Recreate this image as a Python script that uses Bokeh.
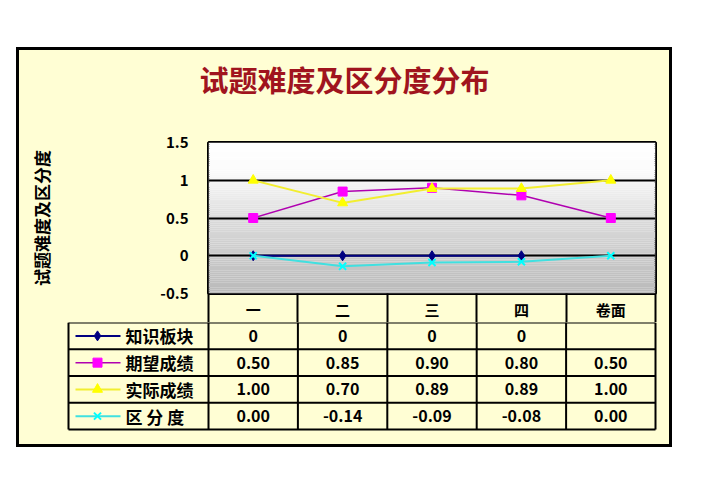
import numpy as np
from bokeh.plotting import figure
from bokeh.layouts import column, row, Spacer
from bokeh.models import Range1d, FixedTicker
from bokeh.core.properties import value
from bokeh.embed import file_html
from bokeh.resources import INLINE

# ---------------- data ----------------
categories = ["一", "二", "三", "四", "卷面"]
series_names = ["知识板块", "期望成绩", "实际成绩", "区 分 度"]
knowledge = [0, 0, 0, 0, None]
expected = [0.50, 0.85, 0.90, 0.80, 0.50]
actual = [1.00, 0.70, 0.89, 0.89, 1.00]
discrim = [0.00, -0.14, -0.09, -0.08, 0.00]
yticks = [-0.5, 0, 0.5, 1, 1.5]
ytick_labels = ["-0.5", "0", "0.5", "1", "1.5"]
title_text = "试题难度及区分度分布"
ylabel_text = "试题难度及区分度"

# ---------------- style / layout ----------------
FONT = "Noto Sans CJK SC"
BG = "#FFFED4"
W = 650
FL = 189          # left border of chart frame
FR = 14           # right border of chart frame
TOPB = 12         # top border of chart figure
HDR = 29          # header row height (x axis area)
PH = 151          # plot frame height
HT = 80           # title strip height
HA = TOPB + PH + HDR
HB = 122
PLOT_W = W - FL - FR
NCAT = len(categories)
CAT_W = PLOT_W / NCAT
LEG_W = 140
ROW_H = 26.75

colors = ["#000080", "#FF00FF", "#FFFF00", "#00FFFF"]
line_colors = ["#000080", "#B000B0", "#F2EE30", "#40E0E0"]
line_widths = [2, 1.5, 2, 2]
markers = ["diamond", "square", "triangle", "x"]
msizes = [10, 9, 10, 10]
series = [knowledge, expected, actual, discrim]

xs = list(range(NCAT))
bounds = [i - 0.5 for i in range(NCAT + 1)]

# ---------------- title strip ----------------
pT = figure(width=W, height=HT, output_backend="svg", toolbar_location=None,
            x_axis_location=None, y_axis_location=None, min_border=0,
            background_fill_color=BG, border_fill_color=BG, title=title_text,
            x_range=Range1d(0, 1), y_range=Range1d(0, 1))
pT.frame_align = False
pT.grid.visible = False
pT.outline_line_color = None
pT.title.align = "center"
pT.title.text_font = FONT
pT.title.text_font_size = "29px"
pT.title.text_font_style = "bold"
pT.title.text_color = "#A0141E"
pT.title.standoff = 10

# ---------------- chart ----------------
pA = figure(width=W, height=HA, x_range=Range1d(-0.5, NCAT - 0.5),
            y_range=Range1d(yticks[0], yticks[-1]),
            output_backend="svg", toolbar_location=None,
            min_border_left=FL, min_border_right=FR, min_border_top=TOPB,
            min_border_bottom=HDR, border_fill_color=BG,
            background_fill_color="white")
pA.frame_align = False

# gradient background of plot area
nb = 80
edges = np.linspace(yticks[0], yticks[-1], nb + 1)
mids = (edges[:-1] + edges[1:]) / 2
g = np.interp(mids, [-0.5, 0.0, 0.5, 0.8, 1.15, 1.5], [186, 202, 220, 236, 252, 255])
band_colors = ["#%02x%02x%02x" % (int(v), int(v), int(v)) for v in g]
pA.quad(left=-0.5, right=NCAT - 0.5, bottom=edges[:-1], top=edges[1:],
        fill_color=band_colors, line_color=None, level="image")

pA.xgrid.visible = False
pA.ygrid.ticker = FixedTicker(ticks=yticks[1:-1])
pA.ygrid.grid_line_color = "black"
pA.ygrid.grid_line_width = 2

for vals, c, lc, lw, m, s in zip(series, colors, line_colors, line_widths, markers, msizes):
    ys = [np.nan if v is None else v for v in vals]
    pA.line(xs, ys, line_color=lc, line_width=lw)
    if m == "x":
        pA.scatter(xs, ys, marker=m, size=s, line_color=c, line_width=2)
    else:
        pA.scatter(xs, ys, marker=m, size=s, fill_color=c, line_color=c)

# y axis
ax = pA.yaxis[0]
ax.ticker = FixedTicker(ticks=yticks)
ax.major_label_overrides = dict(zip(yticks, ytick_labels))
ax.axis_line_color = None
ax.major_tick_line_color = None
ax.minor_tick_line_color = None
ax.major_label_standoff = 14
ax.major_label_text_font = FONT
ax.major_label_text_font_style = "bold"
ax.major_label_text_font_size = "15px"
ax.major_label_text_color = "black"
ax.axis_label = ylabel_text
ax.axis_label_text_font = FONT
ax.axis_label_text_font_style = "bold"
ax.axis_label_text_font_size = "17px"
ax.axis_label_text_color = "black"
ax.axis_label_standoff = 103

# x axis = header row of the data table
bx = pA.xaxis[0]
bx.ticker = FixedTicker(ticks=xs, minor_ticks=bounds)
bx.major_label_overrides = dict(zip(xs, categories))
bx.axis_line_color = None
bx.major_tick_line_color = None
bx.minor_tick_line_color = "black"
bx.minor_tick_line_width = 2
bx.minor_tick_in = 0
bx.minor_tick_out = HDR
bx.major_label_standoff = -24
bx.major_label_text_font = FONT
bx.major_label_text_font_style = "bold"
bx.major_label_text_font_size = "15px"
bx.major_label_text_color = "black"

pA.outline_line_color = "black"
pA.outline_line_width = 3

# ---------------- data table ----------------
x0 = -0.5 - FL / CAT_W
x1 = NCAT - 0.5 + FR / CAT_W
nrows = len(series)
pB = figure(width=W, height=HB, x_range=Range1d(x0, x1),
            y_range=Range1d(HB / ROW_H, 0),
            output_backend="svg", toolbar_location=None,
            x_axis_location=None, y_axis_location=None, min_border=0,
            background_fill_color=BG, border_fill_color=BG)
pB.frame_align = False
pB.grid.visible = False
pB.outline_line_color = None

leg_left = -0.5 - LEG_W / CAT_W
right = NCAT - 0.5
hy = list(range(0, nrows + 1))
pB.segment(x0=[leg_left] * len(hy), x1=[right] * len(hy), y0=hy, y1=hy,
           line_color="black", line_width=2)
vx = [leg_left] + bounds
pB.segment(x0=vx, x1=vx, y0=[0] * len(vx), y1=[nrows] * len(vx),
           line_color="black", line_width=2)

for i, (name, vals, c, lc, lw, m, s) in enumerate(zip(series_names, series, colors,
                                                      line_colors, line_widths, markers, msizes)):
    yc = i + 0.5
    pB.segment(x0=[leg_left + 7 / CAT_W], x1=[leg_left + 52 / CAT_W], y0=[yc], y1=[yc],
               line_color=lc, line_width=lw)
    if m == "x":
        pB.scatter([leg_left + 29 / CAT_W], [yc], marker=m, size=s, line_color=c, line_width=2)
    else:
        pB.scatter([leg_left + 29 / CAT_W], [yc], marker=m, size=s, fill_color=c, line_color=c)
    pB.text(x=[leg_left + 57 / CAT_W], y=[yc], text=[name], text_font=value(FONT),
            text_font_style="bold", text_font_size="17px", text_align="left",
            text_baseline="middle", text_color="black")
    if i == 0:
        labels = ["" if v is None else "%g" % v for v in vals]
    else:
        labels = ["" if v is None else "%.2f" % v for v in vals]
    pB.text(x=xs, y=[yc] * NCAT, text=labels, text_font=value(FONT),
            text_font_style="bold", text_font_size="16px", text_align="center",
            text_baseline="middle", text_color="black")

box = column(pT, pA, pB, spacing=0,
             styles={"border": "3px solid black", "background-color": BG})
layout = column(Spacer(height=47), row(Spacer(width=16), box, spacing=0), spacing=0)

open("out.html", "w").write(file_html(layout, INLINE))
